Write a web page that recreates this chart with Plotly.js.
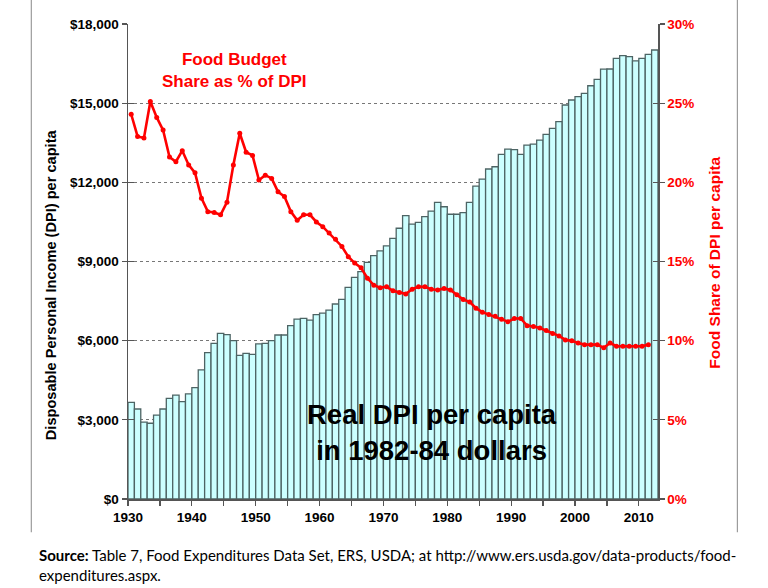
<!DOCTYPE html>
<html>
<head>
<meta charset="utf-8">
<script src="https://cdn.plot.ly/plotly-3.0.1.min.js"></script>
<style>
  html, body { margin: 0; padding: 0; background: #fff; }
  #chart { width: 768px; height: 588px; }
</style>
</head>
<body>
<div id="chart"></div>
<script>
// Real disposable personal income per capita (1982-84 dollars), 1930-2012
const years = [
  1930, 1931, 1932, 1933, 1934, 1935, 1936, 1937, 1938, 1939,
  1940, 1941, 1942, 1943, 1944, 1945, 1946, 1947, 1948, 1949,
  1950, 1951, 1952, 1953, 1954, 1955, 1956, 1957, 1958, 1959,
  1960, 1961, 1962, 1963, 1964, 1965, 1966, 1967, 1968, 1969,
  1970, 1971, 1972, 1973, 1974, 1975, 1976, 1977, 1978, 1979,
  1980, 1981, 1982, 1983, 1984, 1985, 1986, 1987, 1988, 1989,
  1990, 1991, 1992, 1993, 1994, 1995, 1996, 1997, 1998, 1999,
  2000, 2001, 2002, 2003, 2004, 2005, 2006, 2007, 2008, 2009,
  2010, 2011, 2012
];
const realDpi = [
  3660, 3410, 2910, 2870, 3180, 3410, 3815, 3940, 3690, 3980,
  4220, 4890, 5545, 5900, 6280, 6230, 6000, 5445, 5520, 5480,
  5875, 5900, 6000, 6215, 6215, 6570, 6820, 6845, 6780, 6990,
  7040, 7160, 7390, 7565, 8020, 8400, 8615, 8970, 9220, 9400,
  9590, 9880, 10260, 10735, 10420, 10485, 10700, 10910, 11240, 11075,
  10790, 10790, 10850, 11240, 11860, 12125, 12505, 12590, 13060, 13260,
  13240, 13060, 13410, 13450, 13600, 13820, 14045, 14300, 14930, 15120,
  15245, 15370, 15660, 15900, 16290, 16295, 16700, 16800, 16760, 16605,
  16700, 16850, 17015
];

// Food expenditures as a share of DPI (%), 1930-2011
const shareYears = years.slice(0, 82);
const foodShare = [
  24.3, 22.9, 22.8, 25.1, 24.1, 23.3, 21.6, 21.3, 22.0, 21.1,
  20.6, 19.0, 18.15, 18.1, 17.95, 18.75, 21.1, 23.1, 21.9, 21.7,
  20.15, 20.45, 20.25, 19.4, 19.1, 18.15, 17.6, 17.95, 17.95, 17.5,
  17.2, 16.8, 16.4, 15.95, 15.3, 14.9, 14.6, 13.95, 13.5, 13.35,
  13.4, 13.15, 13.05, 12.95, 13.25, 13.4, 13.4, 13.25, 13.2, 13.3,
  13.2, 12.9, 12.6, 12.45, 12.05, 11.8, 11.65, 11.55, 11.35, 11.2,
  11.4, 11.4, 10.95, 10.9, 10.8, 10.65, 10.45, 10.3, 10.05, 10.0,
  9.85, 9.75, 9.75, 9.75, 9.55, 9.85, 9.65, 9.65, 9.65, 9.65,
  9.65, 9.75
];

// Axis ticks: decade labels sit at the left edge of each decade's first bar
const decadeLabels = ['1930', '1940', '1950', '1960', '1970', '1980', '1990', '2000', '2010'];
const tickYears = [1930, 1935, 1940, 1945, 1950, 1955, 1960, 1965, 1970, 1975,
                   1980, 1985, 1990, 1995, 2000, 2005, 2010];

const tickVals = tickYears.map(y => y - 0.5);
const tickText = tickYears.map(y => decadeLabels.includes(String(y)) ? String(y) : '');

const FONT = 'Liberation Sans, Arial, sans-serif';
const RED = '#FF0000';
const AXIS = '#555555';

const traces = [
  {
    type: 'bar',
    x: years,
    y: realDpi,
    yaxis: 'y',
    marker: { color: '#CCFFFF', line: { color: '#4d6464', width: 1.3 } },
    hoverinfo: 'x+y'
  },
  {
    type: 'scatter',
    mode: 'lines+markers',
    x: shareYears,
    y: foodShare,
    yaxis: 'y2',
    line: { color: RED, width: 2.6 },
    marker: { color: RED, size: 5, symbol: 'circle' }
  },
  // carriers for the inner halves of the crossing tick marks
  { type: 'scatter', x: [], y: [], yaxis: 'y3', hoverinfo: 'skip', showlegend: false },
  { type: 'scatter', x: [], y: [], yaxis: 'y4', hoverinfo: 'skip', showlegend: false }
];

const tickFont = { family: FONT, size: 13.5, weight: 'bold', color: '#000' };

const layout = {
  width: 768,
  height: 588,
  margin: { l: 128, r: 110, t: 24, b: 89 },
  paper_bgcolor: '#ffffff',
  plot_bgcolor: '#ffffff',
  showlegend: false,
  bargap: 0,
  font: { family: FONT, color: '#000' },
  xaxis: {
    range: [1929.5, 2012.5],
    tickmode: 'array',
    tickvals: tickVals,
    ticktext: tickText,
    ticks: 'outside',
    ticklen: 5,
    tickcolor: AXIS,
    tickwidth: 1.2,
    showline: true,
    linecolor: AXIS,
    linewidth: 1.5,
    showgrid: false,
    zeroline: false,
    tickfont: tickFont
  },
  yaxis: {
    range: [0, 18000],
    tickmode: 'linear',
    tick0: 0,
    dtick: 3000,
    tickprefix: '$',
    tickformat: ',d',
    ticks: 'outside',
    ticklen: 5,
    tickcolor: AXIS,
    tickwidth: 1.2,
    showline: true,
    linecolor: AXIS,
    linewidth: 1.5,
    showgrid: true,
    gridcolor: '#777777',
    griddash: 'dot',
    gridwidth: 1,
    zeroline: false,
    tickfont: tickFont
  },
  yaxis2: {
    overlaying: 'y',
    side: 'right',
    range: [0, 30],
    tickmode: 'linear',
    tick0: 0,
    dtick: 5,
    ticksuffix: '%',
    ticks: 'outside',
    ticklen: 5,
    tickcolor: AXIS,
    tickwidth: 1.2,
    showline: true,
    linecolor: AXIS,
    linewidth: 1.5,
    showgrid: false,
    zeroline: false,
    tickfont: { family: FONT, size: 13.5, weight: 'bold', color: RED }
  },
  yaxis3: {
    overlaying: 'y',
    side: 'left',
    range: [0, 18000],
    tickmode: 'linear',
    tick0: 0,
    dtick: 3000,
    ticks: 'inside',
    ticklen: 6,
    tickcolor: AXIS,
    tickwidth: 1.2,
    showticklabels: false,
    showgrid: false,
    showline: false,
    zeroline: false
  },
  yaxis4: {
    overlaying: 'y',
    side: 'right',
    range: [0, 30],
    tickmode: 'linear',
    tick0: 0,
    dtick: 5,
    ticks: 'inside',
    ticklen: 5,
    tickcolor: AXIS,
    tickwidth: 1.2,
    showticklabels: false,
    showgrid: false,
    showline: false,
    zeroline: false
  },
  shapes: [
    // side edges of the chart frame
    { type: 'line', xref: 'paper', yref: 'paper', x0: -0.1825, x1: -0.1825, y0: -0.07, y1: 1.06,
      line: { color: '#888888', width: 1 } },
    { type: 'line', xref: 'paper', yref: 'paper', x0: 1.1497, x1: 1.1497, y0: -0.07, y1: 1.06,
      line: { color: '#888888', width: 1 } }
  ],
  annotations: [
    {
      // left axis title
      xref: 'paper', yref: 'paper',
      x: -0.144, y: 0.4516,
      xanchor: 'center', yanchor: 'middle',
      textangle: -90,
      showarrow: false,
      text: 'Disposable Personal Income (DPI) per capita',
      font: { family: FONT, size: 14.6, weight: 'bold', color: '#000' }
    },
    {
      // right axis title
      xref: 'paper', yref: 'paper',
      x: 1.106, y: 0.498,
      xanchor: 'center', yanchor: 'middle',
      textangle: -90,
      showarrow: false,
      text: 'Food Share of DPI per capita',
      font: { family: FONT, size: 15.5, weight: 'bold', color: RED }
    },
    {
      xref: 'paper', yref: 'paper',
      x: 0.2, y: 0.903,
      xanchor: 'center', yanchor: 'middle',
      showarrow: false,
      text: 'Food Budget<br>Share as % of DPI',
      font: { family: FONT, size: 17, weight: 'bold', color: RED }
    },
    {
      xref: 'paper', yref: 'paper',
      x: 0.574, y: 0.141,
      xanchor: 'center', yanchor: 'middle',
      showarrow: false,
      text: 'Real DPI per capita<br>in 1982-84 dollars',
      font: { family: FONT, size: 27.5, weight: 'bold', color: '#000' }
    },
    {
      xref: 'paper', yref: 'paper',
      x: -0.1725, y: -0.095,
      xanchor: 'left', yanchor: 'top',
      align: 'left',
      showarrow: false,
      text: '<b>Source:</b> Table 7, Food Expenditures Data Set, ERS, USDA; at http://www.ers.usda.gov/data-products/food-<br>expenditures.aspx.',
      font: { family: 'Lato, Open Sans, sans-serif', size: 15, color: '#000' }
    }
  ]
};

Plotly.newPlot('chart', traces, layout, { staticPlot: true, displayModeBar: false });
</script>
</body>
</html>
